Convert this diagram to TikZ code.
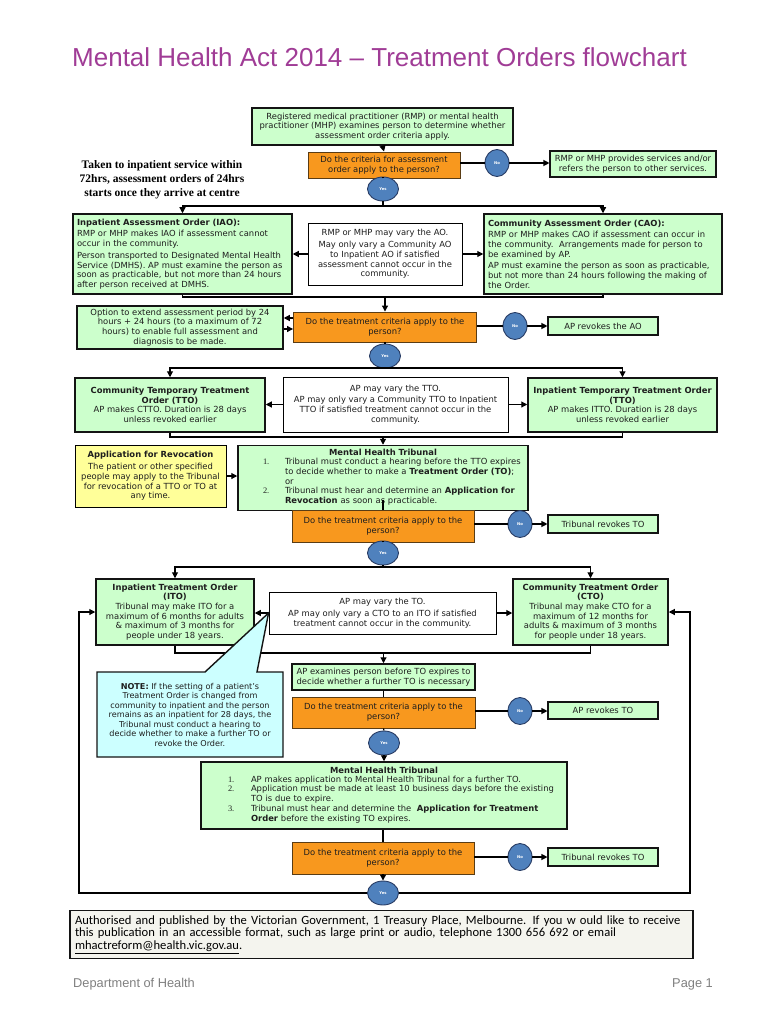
\documentclass[tikz,border=0pt]{standalone}
\usepackage{fontspec}
\usepackage{array}
\newfontfamily\vf{DejaVu Sans}
\newfontfamily\lsans{Liberation Sans}
\newfontfamily\lserif{Liberation Serif}
\newfontfamily\carl{Carlito}
\usetikzlibrary{shapes.geometric,arrows.meta,calc}
\definecolor{grn}{RGB}{204,255,204}
\definecolor{org}{RGB}{248,152,30}
\definecolor{orgb}{RGB}{90,60,20}
\definecolor{blu}{RGB}{79,129,189}
\definecolor{blub}{RGB}{40,60,100}
\definecolor{yel}{RGB}{255,255,153}
\definecolor{cyn}{RGB}{204,255,255}
\definecolor{ttl}{RGB}{160,60,150}
\definecolor{txt}{RGB}{30,30,30}
\definecolor{bord}{RGB}{20,20,20}
\definecolor{foot}{RGB}{244,244,238}
\definecolor{gry}{RGB}{128,128,128}
\newcommand\vt{\vf\fontsize{8.4}{9.7}\selectfont}
\newcommand\ntxt{\vf\fontsize{8.1}{9.5}\selectfont}
\tikzset{
  bx/.style={draw=black, inner sep=3pt, align=center, font=\vt, text=txt},
  wh/.style 2 args={minimum width=#1pt, minimum height=#2pt},
  gbox/.style={bx, fill=grn, line width=1.5pt, draw=bord},
  wbox/.style={bx, fill=white, line width=0.9pt},
  obox/.style={bx, fill=org, line width=0.9pt, draw=orgb},
  rbox/.style={bx, fill=grn, line width=1.1pt, draw=bord},
  ybox/.style={bx, fill=yel, line width=1pt},
  yn/.style={ellipse, draw=blub, fill=blu, line width=0.9pt, inner sep=0pt, font=\vf\bfseries\fontsize{3.8}{4}\selectfont, text=white},
  nocirc/.style={yn, minimum width=24pt, minimum height=27pt},
  yescirc/.style={yn, minimum width=31pt, minimum height=24pt},
  ln/.style={line width=1.1pt, draw=black},
  arr/.style={ln, -{Triangle[length=6pt, width=6pt]}},
}
\begin{document}
\begin{tikzpicture}[x=1pt,y=-1pt]
\useasboundingbox (0,0) rectangle (768,1024);
\fill[white] (0,0) rectangle (768,1024);

% title
\node[anchor=base west, inner sep=0pt, font=\lsans\fontsize{26}{30}\selectfont, text=ttl] (title) at (72,67) {Mental Health Act 2014 – Treatment Orders flowchart};

\node[inner sep=0pt, align=center, font=\lserif\bfseries\fontsize{11.5}{14}\selectfont, text=black] (taken) at (162,180) {Taken to inpatient service within\\72hrs, assessment orders of 24hrs\\starts once they arrive at centre};

% row 1
\node[gbox, wh={261}{37}] (top) at (382.5,126.5) {Registered medical practitioner (RMP) or mental health\\practitioner (MHP) examines person to determine whether\\assessment order criteria apply.};
\node[obox, wh={152}{26}] (d1) at (384,165) {Do the criteria for assessment\\order apply to the person?};
\node[nocirc] (no1) at (497,163) {No};
\node[rbox, wh={166}{26}] (svc) at (633,164) {RMP or MHP provides services and/or\\refers the person to other services.};
\node[yescirc] (yes1) at (383,189) {Yes};

% assessment orders
\node[gbox, align=left, inner sep=4pt, text width=211pt, wh={219}{80}] (iao) at (182.5,254) {\textbf{Inpatient Assessment Order (IAO):}\\[2pt]RMP or MHP makes IAO if assessment cannot\\occur in the community.\\[2pt]Person transported to Designated Mental Health\\Service (DMHS). AP must examine the person as\\soon as practicable, but not more than 24 hours\\after person received at DMHS.};
\node[wbox, wh={154}{62}] (aovary) at (385,254) {RMP or MHP may vary the AO.\\[2pt]May only vary a Community AO\\to Inpatient AO if satisfied\\assessment cannot occur in the\\community.};
\node[gbox, align=left, inner sep=4pt, text width=230pt, wh={238}{80}] (cao) at (603,254) {\textbf{Community Assessment Order (CAO):}\\[2pt]RMP or MHP makes CAO if assessment can occur in\\the community.\ \ Arrangements made for person to\\be examined by AP.\\[2pt]AP must examine the person as soon as practicable,\\but not more than 24 hours following the making of\\the Order.};

% treatment criteria 1
\node[gbox, wh={206}{43}] (option) at (180,327.5) {Option to extend assessment period by 24\\hours + 24 hours (to a maximum of 72\\hours) to enable full assessment and\\diagnosis to be made.};
\node[obox, wh={183}{30}] (d2) at (385,327) {Do the treatment criteria apply to the\\person?};
\node[nocirc] (no2) at (515,326) {No};
\node[rbox, wh={110}{18}] (revao) at (603,326) {AP revokes the AO};
\node[yescirc] (yes2) at (385,356) {Yes};

% temporary treatment orders
\node[gbox, wh={190}{54}] (ctto) at (170,405) {\textbf{Community Temporary Treatment}\\\textbf{Order (TTO)}\\AP makes CTTO. Duration is 28 days\\unless revoked earlier};
\node[wbox, wh={225}{55}] (ttovary) at (395.5,404.5) {AP may vary the TTO.\\[2pt]AP may only vary a Community TTO to Inpatient\\TTO if satisfied treatment cannot occur in the\\community.};
\node[gbox, wh={189}{54}] (itto) at (622.5,405) {\textbf{Inpatient Temporary Treatment Order}\\\textbf{(TTO)}\\AP makes ITTO. Duration is 28 days\\unless revoked earlier};

% tribunal 1
\node[ybox, wh={151}{62}] (rev) at (150.5,476) {\textbf{Application for Revocation}\\[2pt]The patient or other specified\\people may apply to the Tribunal\\for revocation of a TTO or TO at\\any time.};
\node[gbox, align=left, inner sep=4pt, text width=282pt, wh={290}{64}] (trib1) at (383,478) {\makebox[\linewidth][c]{\textbf{Mental Health Tribunal}}\\[1pt]\hspace*{21pt}\begin{tabular}{@{}>{\lserif}p{22pt}@{}l@{}}
1. & Tribunal must conduct a hearing before the TTO expires\\
 & to decide whether to make a \textbf{Treatment Order (TO)};\\
 & or\\
2. & Tribunal must hear and determine an \textbf{Application for}\\
 & \textbf{Revocation} as soon as practicable.
\end{tabular}};
\node[obox, wh={182}{32}] (d3) at (383,526) {Do the treatment criteria apply to the\\person?};
\node[nocirc] (no3) at (520,524) {No};
\node[rbox, wh={110}{18}] (trev1) at (603,524) {Tribunal revokes TO};
\node[yescirc] (yes3) at (383,553) {Yes};

% treatment orders
\node[gbox, wh={158}{66}] (ito) at (175,612) {\textbf{Inpatient Treatment Order}\\\textbf{(ITO)}\\Tribunal may make ITO for a\\maximum of 6 months for adults\\\& maximum of 3 months for\\people under 18 years.};
\node[wbox, wh={227}{42}] (tovary) at (382.5,613) {AP may vary the TO.\\[2pt]AP may only vary a CTO to an ITO if satisfied\\treatment cannot occur in the community.};
\node[gbox, wh={155}{66}] (cto) at (590.5,612) {\textbf{Community Treatment Order}\\\textbf{(CTO)}\\Tribunal may make CTO for a\\maximum of 12 months for\\adults \& maximum of 3 months\\for people under 18 years.};

% further TO
\node[gbox, wh={183}{26}] (apex) at (383.5,677) {AP examines person before TO expires to\\decide whether a further TO is necessary};
\node[obox, wh={183}{31}] (d4) at (383.5,712.5) {Do the treatment criteria apply to the\\person?};
\node[nocirc] (no4) at (520,711) {No};
\node[rbox, wh={110}{17}] (aprev) at (603,710.5) {AP revokes TO};
\node[yescirc] (yes4) at (384,743) {Yes};

\node[gbox, align=left, inner sep=4pt, text width=358pt, wh={366}{67}] (trib2) at (384,795.5) {\makebox[\linewidth][c]{\textbf{Mental Health Tribunal}}\\[1pt]\hspace*{23pt}\begin{tabular}{@{}>{\lserif}p{23pt}@{}l@{}}
1. & AP makes application to Mental Health Tribunal for a further TO.\\
2. & Application must be made at least 10 business days before the existing\\
 & TO is due to expire.\\
3. & Tribunal must hear and determine the\ \ \textbf{Application for Treatment}\\
 & \textbf{Order} before the existing TO expires.
\end{tabular}};
\node[obox, wh={182}{32}] (d5) at (383,858) {Do the treatment criteria apply to the\\person?};
\node[nocirc] (no5) at (520,857) {No};
\node[rbox, wh={110}{18}] (trev2) at (603,857) {Tribunal revokes TO};
\node[yescirc] (yes5) at (383,893) {Yes};

% ---------------- connectors
\draw[arr] (top.south) -- (d1.north);
\draw[ln] (no1.west -| d1.east) -- (no1.west);
\draw[arr] (no1.east) -- (no1.east -| svc.west);
\draw[ln] (d1.south -| yes1) -- (yes1.north);
\coordinate (j1) at (383,206);
\draw[ln] (yes1.south) -- (j1);
\draw[arr] (j1) -| (iao.north);
\draw[arr] (j1) -| (cao.north);
\draw[arr] (aovary.west) -- (aovary.west -| iao.east);
\draw[arr] (aovary.east) -- (aovary.east -| cao.west);
\coordinate (j2) at (385,297);
\draw[ln] (iao.south) |- (j2);
\draw[ln] (cao.south) |- (j2);
\draw[arr] (j2) -- (d2.north);
\coordinate (u1) at ([yshift=9pt]d2.west);
\coordinate (u2) at ([yshift=-2pt]d2.west);
\draw[arr] (u1) -- (u1 -| option.east);
\draw[arr] (u2 -| option.east) -- (u2);
\draw[ln] (no2.west -| d2.east) -- (no2.west);
\draw[arr] (no2.east) -- (no2.east -| revao.west);
\draw[ln] (d2.south) -- (yes2.north);
\coordinate (j3) at (385,368);
\draw[ln] (yes2.south) -- (j3);
\draw[arr] (j3) -| (ctto.north);
\draw[arr] (j3) -| (itto.north);
\draw[arr] (ttovary.west) -- (ttovary.west -| ctto.east);
\draw[arr] (ttovary.east) -- (ttovary.east -| itto.west);
\coordinate (j4) at (383,437);
\draw[ln] (ctto.south) |- (j4);
\draw[ln] (itto.south) |- (j4);
\draw[arr] (j4) -- (trib1.north);
\draw[arr] (rev.east) -- (rev.east -| trib1.west);
\draw[ln] ([yshift=10pt]d3.north) -- (d3.north);
\draw[ln] (no3.west -| d3.east) -- (no3.west);
\draw[arr] (no3.east) -- (no3.east -| trev1.west);
\draw[ln] (d3.south) -- (yes3.north);
\coordinate (j5) at (383,567);
\draw[ln] (yes3.south) -- (j5);
\draw[arr] (j5) -| (ito.north);
\draw[arr] (j5) -| (cto.north);
\draw[arr] (tovary.west) -- (tovary.west -| ito.east);
\draw[arr] (tovary.east) -- (tovary.east -| cto.west);
\coordinate (j6) at (383.5,653);
\draw[ln] (ito.south) |- (j6);
\draw[ln] (cto.south) |- (j6);
\draw[arr] (j6) -- (apex.north);
\draw[ln] (apex.south) -- (d4.north);
\draw[ln] (no4.west -| d4.east) -- (no4.west);
\draw[arr] (no4.east) -- (no4.east -| aprev.west);
\draw[ln] (d4.south) -- (yes4.north);
\draw[arr] (yes4.south) -- (trib2.north);
\draw[ln] (trib2.south -| d5.north) -- (d5.north);
\draw[ln] (no5.west -| d5.east) -- (no5.west);
\draw[arr] (no5.east) -- (no5.east -| trev2.west);
\draw[arr] (d5.south) -- (yes5.north);
\coordinate (lb) at (79,893);
\coordinate (rb) at (690,893);
\draw[arr] (yes5.west) -- (lb) |- (ito.west);
\draw[arr] (yes5.east) -- (rb) |- (cto.east);

% note callout
\draw[fill=cyn, draw=bord, line width=1.4pt, line join=miter] (97,672) -- (205,672) -- (tovary.west) -- (257,672) -- (283,672) -- (283,757) -- (97,757) -- cycle;
\node[align=center, inner sep=0pt, font=\ntxt, text=txt] (note) at (190,714.5) {\textbf{NOTE:} If the setting of a patient’s\\Treatment Order is changed from\\community to inpatient and the person\\remains as an inpatient for 28 days, the\\Tribunal must conduct a hearing to\\decide whether to make a further TO or\\revoke the Order.};

% footer
\node[draw=bord, fill=foot, line width=1.2pt, align=left, inner sep=5pt, text width=613pt, minimum height=45pt, font=\carl\fontsize{12.6}{12.8}\selectfont, text=black] (foot) at (381.5,934.5) {Authorised and published by the Victorian Government, 1 Treasury Place, Melbourne. If you w ould like to receive\\this publication in an accessible format, such as large print or audio, telephone 1300 656 692 or email\\\underline{mhactreform@health.vic.gov.au}.};

\node[anchor=base west, inner sep=0pt, font=\lsans\fontsize{12.8}{15}\selectfont, text=gry] (dept) at (73,987) {Department of Health};
\node[anchor=base east, inner sep=0pt, font=\lsans\fontsize{12.8}{15}\selectfont, text=gry] (page) at (713,987) {Page 1};
\end{tikzpicture}
\end{document}
